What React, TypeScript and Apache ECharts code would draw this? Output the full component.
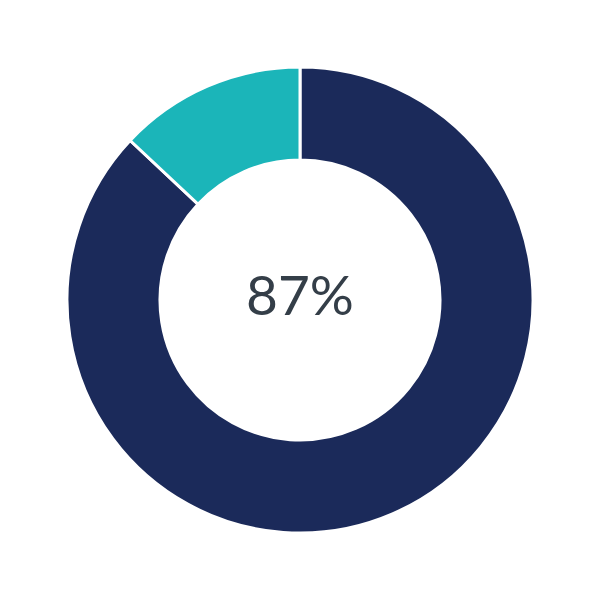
import React, { useEffect, useRef } from "react";
import * as echarts from "echarts";

const categories = ["Yes", "No"];
const values = [87, 13];
const colors = ["#1b2a5a", "#1bb5b9"];
const centerLabel = "87%";

export default function App() {
  const ref = useRef<HTMLDivElement>(null);
  useEffect(() => {
    document.body.style.margin = "0";
    const chart = echarts.init(ref.current!, null, { renderer: "svg" });
    chart.setOption({
      animation: false,
      backgroundColor: "#ffffff",
      graphic: [
        {
          type: "text",
          x: 300,
          y: 294,
          style: {
            text: centerLabel,
            fontSize: 55,
            fontFamily: "Lato",
            fontWeight: "normal",
            fill: "#343e48",
            align: "center",
            verticalAlign: "middle",
          },
        },
      ],
      series: [
        {
          type: "pie",
          center: [300, 300],
          radius: [140, 233],
          startAngle: 90,
          clockwise: true,
          label: { show: false },
          labelLine: { show: false },
          emphasis: { disabled: true },
          itemStyle: { borderColor: "#ffffff", borderWidth: 3 },
          data: categories.map((c, i) => ({
            name: c,
            value: values[i],
            itemStyle: { color: colors[i] },
          })),
        },
      ],
    });
    return () => chart.dispose();
  }, []);
  return <div ref={ref} style={{ position: "absolute", left: 0, top: 0, width: 600, height: 600 }} />;
}
